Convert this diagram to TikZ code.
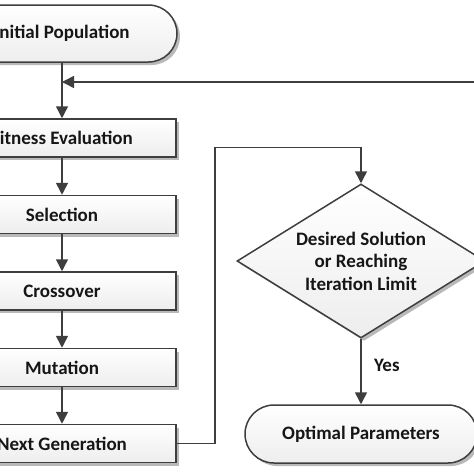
\documentclass[tikz,border=0pt]{standalone}
\usepackage{fontspec}
\setmainfont{Carlito}
\usetikzlibrary{shapes.geometric,shadows,arrows.meta,calc}
\definecolor{linec}{RGB}{62,62,62}
\definecolor{txtc}{RGB}{22,22,22}
\begin{document}
\begin{tikzpicture}[x=1pt,y=-1pt,
  base/.style={draw=linec, line width=1.5pt, top color=white, bottom color=gray!14,
    drop shadow={shadow xshift=3pt, shadow yshift=-3pt, fill=gray!55, opacity=1},
    font=\fontsize{19}{22.5}\selectfont\bfseries, text=txtc, inner sep=0pt, align=center},
  procbox/.style={base, minimum width=228pt, minimum height=38pt},
  termbox/.style={base, minimum height=57pt},
  decbox/.style={base, diamond, minimum width=248pt, minimum height=154pt, aspect=1.6},
  conn/.style={draw=linec, line width=1.5pt, -{Triangle[length=12pt,width=12pt]}},
  lbl/.style={font=\fontsize{19}{22.5}\selectfont\bfseries, text=txtc}
]
\useasboundingbox (0,0) rectangle (474,474);
\clip (0,0) rectangle (474,474);
\node[termbox, rounded corners=28.5pt, minimum width=230pt] (init) at (62,33.5) {Initial Population};
\node[procbox] (fit) at (62,138) {Fitness Evaluation};
\node[procbox] (sel) at (62,214.5) {Selection};
\node[procbox] (cross) at (62,291) {Crossover};
\node[procbox] (mut) at (62,367.5) {Mutation};
\node[procbox] (next) at (62,443.5) {Next Generation};
\node[decbox] (dec) at (361,261) {Desired Solution\\or Reaching\\Iteration Limit};
\node[termbox, rounded corners=29pt, minimum width=232pt, minimum height=58pt] (opt) at (361,434) {Optimal Parameters};
\coordinate (fbr) at (476,82);
\draw[conn] (init.south) -- (fit.north);
\draw[conn] (fit.south) -- (sel.north);
\draw[conn] (sel.south) -- (cross.north);
\draw[conn] (cross.south) -- (mut.north);
\draw[conn] (mut.south) -- (next.north);
\draw[conn] (fbr) -- (fbr -| init.south);
\draw[conn] (next.east) -- ++(38,0) |- ($(dec.north)+(0,-36)$) -- (dec.north);
\draw[conn] (dec.south) -- node[lbl, right=9pt, pos=0.4] {Yes} (opt.north);
\end{tikzpicture}
\end{document}
